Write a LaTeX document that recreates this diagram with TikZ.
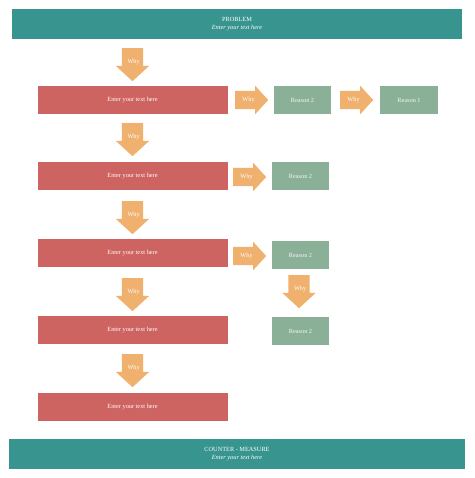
\documentclass[tikz,border=0pt]{standalone}
\usepackage{fontspec}
\setmainfont{Liberation Serif}
\usepackage{tikz}
\usetikzlibrary{shapes.arrows, positioning}
\usepackage{xcolor}

\definecolor{tealbar}{HTML}{37948F}
\definecolor{redbar}{HTML}{CD6461}
\definecolor{greenbar}{HTML}{8BB098}
\definecolor{orangearr}{HTML}{F0B06E}

\tikzset{
  banner/.style={fill=tealbar, text=white, minimum height=30pt, inner sep=0pt,
    align=center, font=\fontsize{6.3}{8}\selectfont},
  whybox/.style={fill=redbar, text=white, minimum width=190pt, minimum height=28pt,
    inner sep=0pt, font=\fontsize{6.3}{7}\selectfont},
  reasonbox/.style={fill=greenbar, text=white!90!greenbar, minimum width=57pt, minimum height=28pt,
    inner sep=0pt, font=\fontsize{6.3}{7}\selectfont},
  whyarrow/.style={single arrow, fill=orangearr, text=white, text depth=1pt,
    text width=10pt, align=center, single arrow tip angle=95,
    font=\fontsize{6.3}{7}\selectfont},
  whydown/.style={whyarrow, shape border rotate=270, anchor=tail, inner xsep=5.5pt,
    inner ysep=2pt, text height=9pt, minimum height=33pt, single arrow head extend=6pt},
  whyright/.style={whyarrow, anchor=tail, inner ysep=6.5pt, inner xsep=3pt,
    text height=4pt, minimum height=33pt, single arrow head extend=5pt}
}

\begin{document}
\begin{tikzpicture}[x=1pt, y=-1pt]
        % khung ngoai
        \useasboundingbox (0,0) rectangle (474,478);

        % van de o tren cung
        \node[banner, minimum width=450pt] (problem) at (237,24)
          {PROBLEM\\\textit{Enter your text here}};

        % cot cac o do
        \node[whybox] (enter1) at (132.5,100) {Enter your text here};
        \node[whybox] (enter2) at (132.5,176) {Enter your text here};
        \node[whybox] (enter3) at (132.5,253) {Enter your text here};
        \node[whybox] (enter4) at (132.5,330) {Enter your text here};
        \node[whybox] (enter5) at (132.5,407) {Enter your text here};

        % cac o ly do
        \node[reasonbox] (reasonA) at (302.5,100) {Reason 2};
        \node[reasonbox, minimum width=58pt] (reasonB) at (409,100) {Reason 1};
        \node[reasonbox] (reasonC) at (300.5,176) {Reason 2};
        \node[reasonbox] (reasonD) at (300.5,255) {Reason 2};
        \node[reasonbox] (reasonE) at (300.5,331) {Reason 2};

        % mui ten xuong
        \node[whydown] (downA) at (132.5,48) {Why};
        \node[whydown] (downB) at (132.5,123) {Why};
        \node[whydown] (downC) at (132.5,201) {Why};
        \node[whydown] (downD) at (132.5,278) {Why};
        \node[whydown] (downE) at (132.5,354) {Why};
        \node[whydown] (downF) at (299,275) {Why};

        % mui ten sang phai
        \node[whyright] (rightA) at (235,100) {Why};
        \node[whyright] (rightB) at (340,100) {Why};
        \node[whyright] (rightC) at (233,177) {Why};
        \node[whyright] (rightD) at (233,256) {Why};

        % bien phap o duoi cung
        \node[banner, minimum width=456pt] (counter) at (237,454)
          {COUNTER - MEASURE\\\textit{Enter your text here}};
    \end{tikzpicture}
\end{document}
